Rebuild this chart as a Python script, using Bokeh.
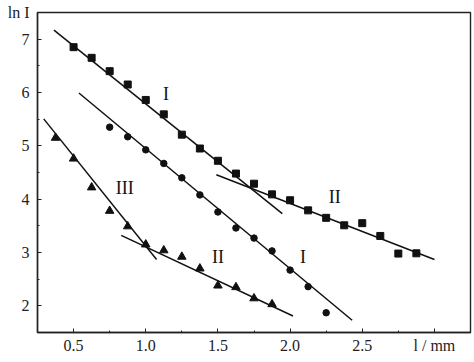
from bokeh.plotting import figure
from bokeh.models import Label, FixedTicker
from bokeh.embed import file_html
from bokeh.resources import INLINE

# data: squares
sq_x = [0.5, 0.625, 0.75, 0.875, 1.0, 1.125, 1.25, 1.375, 1.5, 1.625,
        1.75, 1.875, 2.0, 2.125, 2.25, 2.375, 2.5, 2.625, 2.75, 2.875]
sq_y = [6.85, 6.65, 6.40, 6.15, 5.86, 5.59, 5.21, 4.95, 4.72, 4.48,
        4.29, 4.09, 3.98, 3.79, 3.65, 3.51, 3.55, 3.31, 2.98, 2.985]
# circles
ci_x = [0.75, 0.875, 1.0, 1.125, 1.25, 1.375, 1.5, 1.625, 1.75, 1.875, 2.0, 2.125, 2.25]
ci_y = [5.35, 5.17, 4.925, 4.67, 4.40, 4.08, 3.76, 3.46, 3.27, 3.03, 2.67, 2.36, 1.87]
# triangles
tr_x = [0.375, 0.5, 0.625, 0.75, 0.875, 1.0, 1.125, 1.25, 1.375, 1.5, 1.625, 1.75, 1.875]
tr_y = [5.15, 4.76, 4.22, 3.78, 3.49, 3.15, 3.04, 2.92, 2.70, 2.38, 2.35, 2.14, 2.03]

# fitted line endpoints
fit_sq1_x = [0.364, 1.946]
fit_sq1_y = [7.17, 3.73]
fit_sq2_x = [1.489, 3.0]
fit_sq2_y = [4.458, 2.87]
fit_ci_x = [0.537, 2.43]
fit_ci_y = [5.99, 1.73]
fit_tr3_x = [0.293, 1.075]
fit_tr3_y = [5.505, 2.87]
fit_tr2_x = [0.83, 2.02]
fit_tr2_y = [3.32, 1.81]

# region labels
reg_text = ["I", "II", "I", "III", "II"]
reg_x = [1.14, 2.31, 2.09, 0.854, 1.5]
reg_y = [5.97, 4.04, 2.91, 4.21, 2.92]

# ticks and tick labels (axis titles sit in the tick-label rows)
x_ticks = [0.5, 1.0, 1.5, 2.0, 2.5, 3.0]
x_tick_labels = ["0.5", "1.0", "1.5", "2.0", "2.5", "l / mm"]
x_minor = [0.75, 1.25, 1.75, 2.25, 2.75]
y_ticks = [2, 3, 4, 5, 6, 7, 7.5]
y_tick_labels = ["2", "3", "4", "5", "6", "7", "ln I"]
y_minor = [2.5, 3.5, 4.5, 5.5, 6.5]

FONT = "Liberation Serif"
W, H = 472, 360

p = figure(width=W, height=H, x_range=(0.25, 3.25), y_range=(1.5, 7.5),
           output_backend="svg", toolbar_location=None,
           min_border_left=37, min_border_top=12, min_border_right=2, min_border_bottom=28)
p.grid.visible = False
p.outline_line_color = "#222222"
p.outline_line_width = 1.4
p.background_fill_color = "white"
p.border_fill_color = "white"

for ax in (p.xaxis, p.yaxis):
    ax.axis_line_color = "#222222"
    ax.axis_line_width = 1.4
    ax.major_tick_in = 4
    ax.major_tick_out = 0
    ax.minor_tick_in = 2
    ax.minor_tick_out = 0
    ax.major_tick_line_color = "#222222"
    ax.minor_tick_line_color = "#222222"
    ax.major_label_text_font = FONT
    ax.major_label_text_font_size = "16px"
    ax.major_label_text_color = "#222222"

p.xaxis.ticker = FixedTicker(ticks=x_ticks, minor_ticks=x_minor)
p.yaxis.ticker = FixedTicker(ticks=y_ticks, minor_ticks=y_minor)
p.xaxis.major_label_overrides = dict(zip(x_ticks, x_tick_labels))
p.yaxis.major_label_overrides = dict(zip(y_ticks, y_tick_labels))
p.xaxis.major_label_standoff = 4
p.yaxis.major_label_standoff = 8

lc = "#111111"
for xs, ys in [(fit_sq1_x, fit_sq1_y), (fit_sq2_x, fit_sq2_y), (fit_ci_x, fit_ci_y),
               (fit_tr3_x, fit_tr3_y), (fit_tr2_x, fit_tr2_y)]:
    p.line(xs, ys, line_color=lc, line_width=1.5)

p.scatter(sq_x, sq_y, marker="square", size=7, color=lc)
p.scatter(ci_x, ci_y, marker="circle", size=6.5, color=lc)
p.scatter(tr_x, tr_y, marker="triangle", size=8.5, color=lc)

for t, x, y in zip(reg_text, reg_x, reg_y):
    p.add_layout(Label(x=x, y=y, text=t, text_font=FONT, text_font_size="18px",
                       text_align="center", text_baseline="middle", text_color=lc))

open("out.html", "w").write(file_html(p, INLINE))
